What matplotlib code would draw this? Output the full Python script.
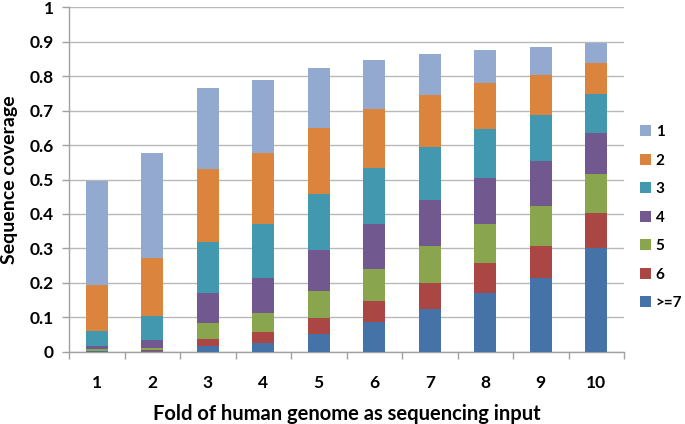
import matplotlib
matplotlib.use("Agg")
import matplotlib.pyplot as plt
import numpy as np

plt.rcParams['font.family'] = ['Lato', 'DejaVu Sans']

categories = ['1', '2', '3', '4', '5', '6', '7', '8', '9', '10']
series_names = ['>=7', '6', '5', '4', '3', '2', '1']
# cumulative tops (bottom series first)
cum_ge7 = [0.001, 0.002, 0.017, 0.026, 0.052, 0.085, 0.125, 0.170, 0.215, 0.302]
cum_6   = [0.003, 0.006, 0.037, 0.056, 0.099, 0.148, 0.200, 0.257, 0.308, 0.403]
cum_5   = [0.007, 0.012, 0.082, 0.113, 0.176, 0.241, 0.306, 0.370, 0.423, 0.517]
cum_4   = [0.016, 0.034, 0.169, 0.214, 0.295, 0.371, 0.440, 0.504, 0.554, 0.636]
cum_3   = [0.060, 0.104, 0.318, 0.370, 0.459, 0.533, 0.594, 0.647, 0.686, 0.747]
cum_2   = [0.195, 0.271, 0.530, 0.577, 0.650, 0.704, 0.744, 0.779, 0.803, 0.838]
cum_1   = [0.495, 0.577, 0.765, 0.789, 0.823, 0.846, 0.863, 0.877, 0.886, 0.897]

colors = ['#4572A7', '#AA4643', '#89A54E', '#71588F', '#4198AF', '#DB843D', '#93A9CF']

cums = [cum_ge7, cum_6, cum_5, cum_4, cum_3, cum_2, cum_1]

fig = plt.figure(figsize=(6.85, 4.24), dpi=100)
ax = fig.add_axes([69/685, 1 - 351.7/424, 555/685, 344.4/424])

x = np.arange(len(categories))
prev = np.zeros(len(categories))
handles = []
for name, cum, col in zip(series_names, cums, colors):
    cum = np.array(cum)
    h = ax.bar(x, cum - prev, bottom=prev, width=0.4, color=col, label=name, zorder=3)
    handles.append(h)
    prev = cum

ax.set_xlim(-0.5, len(categories) - 0.5)
ax.set_ylim(0, 1)
ax.set_yticks(np.arange(0, 1.01, 0.1))
ax.set_yticklabels(['0'] + ['%.1f' % v for v in np.arange(0.1, 0.95, 0.1)] + ['1'])
ax.yaxis.grid(True, color='#B8B8B8', linewidth=1, zorder=0)
ax.set_axisbelow(True)

ax.set_xticks(x)
ax.set_xticklabels(categories)
ax.set_xticks(np.arange(-0.5, len(categories), 1), minor=True)
ax.tick_params(axis='x', which='major', length=0, pad=17, labelsize=12.5)
ax.tick_params(axis='x', which='minor', length=5, color='#A0A0A0', width=1)
ax.tick_params(axis='y', length=5, color='#A0A0A0', width=1, labelsize=12.5, pad=6)
for lab in ax.get_xticklabels() + ax.get_yticklabels():
    lab.set_fontweight('bold')

for s in ['top', 'right']:
    ax.spines[s].set_visible(False)
for s in ['left', 'bottom']:
    ax.spines[s].set_color('#A0A0A0')
    ax.spines[s].set_linewidth(1)

ax.set_xlabel('Fold of human genome as sequencing input', fontsize=14.5, fontweight='bold', labelpad=9)
ax.set_ylabel('Sequence coverage', fontsize=14, fontweight='bold', labelpad=8)

leg = ax.legend(handles[::-1], series_names[::-1], loc='upper left',
                bbox_to_anchor=(634/685, 1 - 119/424), bbox_transform=fig.transFigure,
                frameon=False, handlelength=0.72, handleheight=0.72, handletextpad=0.3,
                labelspacing=0.95, borderaxespad=0, prop={'weight': 'bold', 'size': 11})

fig.savefig('out.png', dpi=100)
